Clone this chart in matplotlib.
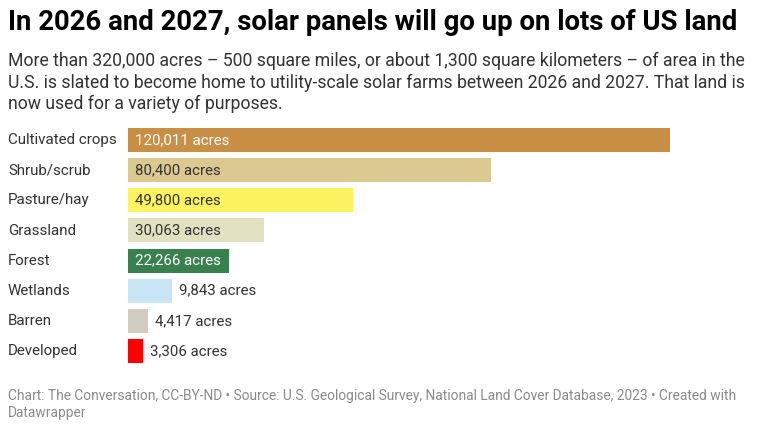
import matplotlib.pyplot as plt

plt.rcParams['font.family'] = ['Roboto', 'DejaVu Sans']

categories = ['Cultivated crops', 'Shrub/scrub', 'Pasture/hay', 'Grassland',
              'Forest', 'Wetlands', 'Barren', 'Developed']
acres = [120011, 80400, 49800, 30063, 22266, 9843, 4417, 3306]
colors = ['#c98f45', '#dcc98f', '#fbf35f', '#e1e1c1',
          '#38814e', '#c9e4f5', '#d2cdc0', '#fe0000']
text_colors = ['white', '#333333', '#333333', '#333333',
               'white', '#333333', '#333333', '#333333']
inside = [True, True, True, True, True, False, False, False]

W, H = 768, 428
fig = plt.figure(figsize=(W / 100, H / 100), dpi=100)

ax = fig.add_axes([128 / W, 1 - 366 / H, (670 - 128) / W, (366 - 125) / H])
y = range(len(categories))
ax.barh(y, acres, height=0.8, color=colors)
ax.set_xlim(0, acres[0])
ax.set_ylim(len(categories) - 0.5, -0.5)
ax.axis('off')

px = acres[0] / (670 - 128)  # data units per pixel
for i, (v, tc, ins) in enumerate(zip(acres, text_colors, inside)):
    label = f'{v:,} acres'
    x = 7 * px if ins else v + 7 * px
    ax.text(x, i, label, va='center', ha='left', fontsize=10.8, color=tc)
    fig.text(8 / W, 1 - (140 + i * 30.2) / H, categories[i], va='center', ha='left',
             fontsize=10.9, color='#333333')

fig.text(8 / W, 1 - 22 / H, 'In 2026 and 2027, solar panels will go up on lots of US land',
         fontsize=19.8, fontweight='bold', va='center', ha='left', color='#000000')
fig.text(8 / W, 1 - 52 / H,
         'More than 320,000 acres \u2013 500 square miles, or about 1,300 square kilometers \u2013 of area in the\n'
         'U.S. is slated to become home to utility-scale solar farms between 2026 and 2027. That land is\n'
         'now used for a variety of purposes.',
         fontsize=12.7, va='top', ha='left', color='#333333', linespacing=1.25)
fig.text(8 / W, 1 - 389 / H,
         'Chart: The Conversation, CC-BY-ND \u2022 Source: U.S. Geological Survey, National Land Cover Database, 2023 \u2022 Created with\n'
         'Datawrapper',
         fontsize=9.9, va='top', ha='left', color='#8a8a8a', linespacing=1.25)

fig.savefig('out.png', dpi=100)
